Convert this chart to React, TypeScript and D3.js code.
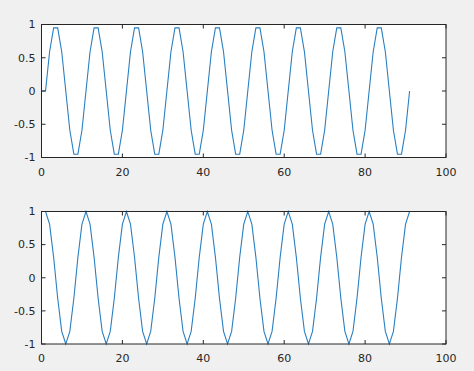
import React from "react";
import * as d3 from "d3";

const topX = [0,1,2,3,4,5,6,7,8,9,10,11,12,13,14,15,16,17,18,19,20,21,22,23,24,25,26,27,28,29,30,31,32,33,34,35,36,37,38,39,40,41,42,43,44,45,46,47,48,49,50,51,52,53,54,55,56,57,58,59,60,61,62,63,64,65,66,67,68,69,70,71,72,73,74,75,76,77,78,79,80,81,82,83,84,85,86,87,88,89,90,91];
const topY = [0,
  0,0.59,0.95,0.95,0.59,0,-0.59,-0.95,-0.95,-0.59,
  0,0.59,0.95,0.95,0.59,0,-0.59,-0.95,-0.95,-0.59,
  0,0.59,0.95,0.95,0.59,0,-0.59,-0.95,-0.95,-0.59,
  0,0.59,0.95,0.95,0.59,0,-0.59,-0.95,-0.95,-0.59,
  0,0.59,0.95,0.95,0.59,0,-0.59,-0.95,-0.95,-0.59,
  0,0.59,0.95,0.95,0.59,0,-0.59,-0.95,-0.95,-0.59,
  0,0.59,0.95,0.95,0.59,0,-0.59,-0.95,-0.95,-0.59,
  0,0.59,0.95,0.95,0.59,0,-0.59,-0.95,-0.95,-0.59,
  0,0.59,0.95,0.95,0.59,0,-0.59,-0.95,-0.95,-0.59,
  0];

const bottomX = [1,2,3,4,5,6,7,8,9,10,11,12,13,14,15,16,17,18,19,20,21,22,23,24,25,26,27,28,29,30,31,32,33,34,35,36,37,38,39,40,41,42,43,44,45,46,47,48,49,50,51,52,53,54,55,56,57,58,59,60,61,62,63,64,65,66,67,68,69,70,71,72,73,74,75,76,77,78,79,80,81,82,83,84,85,86,87,88,89,90,91];
const bottomY = [
  1,0.81,0.31,-0.31,-0.81,-1,-0.81,-0.31,0.31,0.81,
  1,0.81,0.31,-0.31,-0.81,-1,-0.81,-0.31,0.31,0.81,
  1,0.81,0.31,-0.31,-0.81,-1,-0.81,-0.31,0.31,0.81,
  1,0.81,0.31,-0.31,-0.81,-1,-0.81,-0.31,0.31,0.81,
  1,0.81,0.31,-0.31,-0.81,-1,-0.81,-0.31,0.31,0.81,
  1,0.81,0.31,-0.31,-0.81,-1,-0.81,-0.31,0.31,0.81,
  1,0.81,0.31,-0.31,-0.81,-1,-0.81,-0.31,0.31,0.81,
  1,0.81,0.31,-0.31,-0.81,-1,-0.81,-0.31,0.31,0.81,
  1,0.81,0.31,-0.31,-0.81,-1,-0.81,-0.31,0.31,0.81,
  1];

const xTicks = [0, 20, 40, 60, 80, 100];
const yTicks = [-1, -0.5, 0, 0.5, 1];

const W = 474, H = 371;
const FONT = "'DejaVu Sans', Verdana, sans-serif";
const AXC = "#262626";

function Panel({ xs, ys, top, bottom }: { xs: number[]; ys: number[]; top: number; bottom: number }) {
  const left = 41.5, right = 446;
  const x = d3.scaleLinear().domain([0, 100]).range([left, right]);
  const y = d3.scaleLinear().domain([-1, 1]).range([bottom, top]);
  const line = d3.line<number>().x((_, i) => x(xs[i])).y((d) => y(d));
  const tl = 4;
  return (
    <g>
      <rect x={left} y={top} width={right - left} height={bottom - top} fill="#fff" />
      <path d={line(ys) || ""} fill="none" stroke="#2a7fc0" strokeWidth={1.1} />
      <rect x={left} y={top} width={right - left} height={bottom - top} fill="none" stroke={AXC} strokeWidth={1} />
      {xTicks.map((t) => (
        <g key={"x" + t}>
          <line x1={x(t)} x2={x(t)} y1={bottom} y2={bottom - tl} stroke={AXC} />
          <line x1={x(t)} x2={x(t)} y1={top} y2={top + tl} stroke={AXC} />
          <text x={x(t)} y={bottom + 18} fontSize={11} fontFamily={FONT} fill={AXC} textAnchor="middle">{t}</text>
        </g>
      ))}
      {yTicks.map((t) => (
        <g key={"y" + t}>
          <line x1={left} x2={left + tl} y1={y(t)} y2={y(t)} stroke={AXC} />
          <line x1={right} x2={right - tl} y1={y(t)} y2={y(t)} stroke={AXC} />
          <text x={left - 6} y={y(t)} dy="0.35em" fontSize={11} fontFamily={FONT} fill={AXC} textAnchor="end">{t}</text>
        </g>
      ))}
    </g>
  );
}

export default function App() {
  return (
    <div style={{ position: "fixed", left: 0, top: 0 }}>
      <svg width={W} height={H} style={{ display: "block", background: "#f0f0f0" }}>
        <Panel xs={topX} ys={topY} top={24.5} bottom={157.5} />
        <Panel xs={bottomX} ys={bottomY} top={211.5} bottom={344} />
      </svg>
    </div>
  );
}
